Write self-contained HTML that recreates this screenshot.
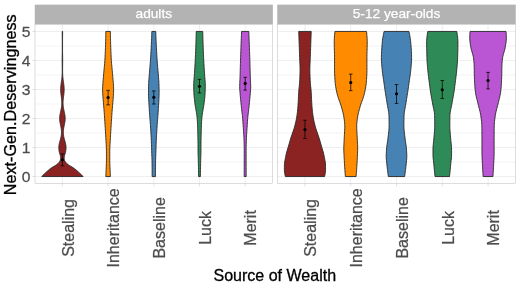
<!DOCTYPE html>
<html><head><meta charset="utf-8"><title>plot</title><style>html,body{margin:0;padding:0;background:#fff}svg{display:block}</style></head><body>
<svg width="520" height="289" viewBox="0 0 520 289" font-family="'Liberation Sans', sans-serif">
<rect width="520" height="289" fill="#fff"/>
<rect x="34.75" y="4.65" width="238.10" height="19.75" fill="#B3B3B3"/>
<rect x="35.0" y="24.4" width="237.60000000000002" height="159.1" fill="#fff"/>
<line x1="35.0" x2="272.6" y1="162.04" y2="162.04" stroke="#E2E2E2" stroke-width="0.4"/>
<line x1="35.0" x2="272.6" y1="133.02" y2="133.02" stroke="#E2E2E2" stroke-width="0.4"/>
<line x1="35.0" x2="272.6" y1="104.00" y2="104.00" stroke="#E2E2E2" stroke-width="0.4"/>
<line x1="35.0" x2="272.6" y1="74.98" y2="74.98" stroke="#E2E2E2" stroke-width="0.4"/>
<line x1="35.0" x2="272.6" y1="45.96" y2="45.96" stroke="#E2E2E2" stroke-width="0.4"/>
<line x1="35.0" x2="272.6" y1="176.55" y2="176.55" stroke="#E2E2E2" stroke-width="0.6"/>
<line x1="35.0" x2="272.6" y1="147.53" y2="147.53" stroke="#E2E2E2" stroke-width="0.6"/>
<line x1="35.0" x2="272.6" y1="118.51" y2="118.51" stroke="#E2E2E2" stroke-width="0.6"/>
<line x1="35.0" x2="272.6" y1="89.49" y2="89.49" stroke="#E2E2E2" stroke-width="0.6"/>
<line x1="35.0" x2="272.6" y1="60.47" y2="60.47" stroke="#E2E2E2" stroke-width="0.6"/>
<line x1="35.0" x2="272.6" y1="31.45" y2="31.45" stroke="#E2E2E2" stroke-width="0.6"/>
<line x1="62.42" x2="62.42" y1="24.4" y2="183.5" stroke="#E2E2E2" stroke-width="0.6"/>
<line x1="108.11" x2="108.11" y1="24.4" y2="183.5" stroke="#E2E2E2" stroke-width="0.6"/>
<line x1="153.80" x2="153.80" y1="24.4" y2="183.5" stroke="#E2E2E2" stroke-width="0.6"/>
<line x1="199.49" x2="199.49" y1="24.4" y2="183.5" stroke="#E2E2E2" stroke-width="0.6"/>
<line x1="245.18" x2="245.18" y1="24.4" y2="183.5" stroke="#E2E2E2" stroke-width="0.6"/>
<path d="M41.72 176.55 L42.41 175.82 L43.13 175.10 L43.86 174.37 L44.62 173.65 L45.38 172.92 L46.17 172.20 L46.98 171.47 L47.82 170.75 L48.68 170.02 L49.58 169.30 L50.52 168.57 L51.52 167.84 L52.64 167.12 L53.88 166.39 L55.11 165.67 L56.22 164.94 L57.18 164.22 L58.02 163.49 L58.73 162.77 L59.32 162.04 L59.81 161.31 L60.21 160.59 L60.44 159.86 L60.61 159.14 L60.66 158.41 L60.63 157.69 L60.56 156.96 L60.47 156.24 L60.31 155.51 L60.08 154.78 L59.83 154.06 L59.62 153.33 L59.44 152.61 L59.26 151.88 L59.12 151.16 L59.02 150.43 L58.94 149.71 L58.88 148.98 L58.83 148.26 L58.81 147.53 L58.83 146.80 L58.88 146.08 L58.97 145.35 L59.08 144.63 L59.22 143.90 L59.38 143.18 L59.56 142.45 L59.76 141.73 L59.96 141.00 L60.16 140.28 L60.37 139.55 L60.56 138.82 L60.75 138.10 L60.92 137.37 L61.07 136.65 L61.20 135.92 L61.32 135.20 L61.40 134.47 L61.46 133.75 L61.50 133.02 L61.51 132.29 L61.50 131.57 L61.46 130.84 L61.40 130.12 L61.32 129.39 L61.21 128.67 L61.10 127.94 L60.97 127.22 L60.82 126.49 L60.68 125.77 L60.52 125.04 L60.37 124.31 L60.23 123.59 L60.09 122.86 L59.97 122.14 L59.86 121.41 L59.78 120.69 L59.71 119.96 L59.68 119.24 L59.66 118.51 L59.68 117.78 L59.72 117.06 L59.78 116.33 L59.87 115.61 L59.97 114.88 L60.10 114.16 L60.24 113.43 L60.39 112.71 L60.54 111.98 L60.70 111.26 L60.86 110.53 L61.01 109.80 L61.15 109.08 L61.28 108.35 L61.41 107.63 L61.51 106.90 L61.60 106.18 L61.68 105.45 L61.73 104.73 L61.77 104.00 L61.79 103.27 L61.79 102.55 L61.77 101.82 L61.74 101.10 L61.69 100.37 L61.63 99.65 L61.56 98.92 L61.48 98.20 L61.39 97.47 L61.30 96.74 L61.21 96.02 L61.11 95.29 L61.02 94.57 L60.94 93.84 L60.86 93.12 L60.79 92.39 L60.74 91.67 L60.70 90.94 L60.67 90.22 L60.66 89.49 L60.67 88.76 L60.70 88.04 L60.74 87.31 L60.80 86.59 L60.86 85.86 L60.94 85.14 L61.03 84.41 L61.13 83.69 L61.23 82.96 L61.33 82.23 L61.44 81.51 L61.54 80.78 L61.64 80.06 L61.73 79.33 L61.81 78.61 L61.89 77.88 L61.96 77.16 L62.03 76.43 L62.08 75.71 L62.13 74.98 L62.17 74.25 L62.20 73.53 L62.22 72.80 L62.24 72.08 L62.25 71.35 L62.25 70.63 L62.25 69.90 L62.25 69.18 L62.25 68.45 L62.24 67.72 L62.23 67.00 L62.22 66.27 L62.21 65.55 L62.20 64.82 L62.19 64.10 L62.18 63.37 L62.17 62.65 L62.17 61.92 L62.17 61.20 L62.16 60.47 L62.17 59.74 L62.17 59.02 L62.18 58.29 L62.18 57.57 L62.19 56.84 L62.20 56.12 L62.22 55.39 L62.23 54.67 L62.24 53.94 L62.26 53.22 L62.27 52.49 L62.29 51.76 L62.30 51.04 L62.30 50.31 L62.30 49.59 L62.30 48.86 L62.30 48.14 L62.30 47.41 L62.30 46.69 L62.30 45.96 L62.30 45.23 L62.30 44.51 L62.30 43.78 L62.30 43.06 L62.30 42.33 L62.30 41.61 L62.30 40.88 L62.30 40.16 L62.30 39.43 L62.29 38.70 L62.28 37.98 L62.27 37.25 L62.26 36.53 L62.25 35.80 L62.24 35.08 L62.23 34.35 L62.22 33.63 L62.22 32.90 L62.22 32.18 L62.22 31.45 L62.62 31.45 L62.61 32.18 L62.61 32.90 L62.61 33.63 L62.60 34.35 L62.59 35.08 L62.58 35.80 L62.57 36.53 L62.56 37.25 L62.55 37.98 L62.54 38.70 L62.54 39.43 L62.54 40.16 L62.54 40.88 L62.54 41.61 L62.54 42.33 L62.54 43.06 L62.54 43.78 L62.54 44.51 L62.54 45.23 L62.54 45.96 L62.54 46.69 L62.54 47.41 L62.54 48.14 L62.54 48.86 L62.54 49.59 L62.54 50.31 L62.54 51.04 L62.54 51.76 L62.56 52.49 L62.57 53.22 L62.59 53.94 L62.60 54.67 L62.61 55.39 L62.63 56.12 L62.64 56.84 L62.65 57.57 L62.66 58.29 L62.66 59.02 L62.66 59.74 L62.67 60.47 L62.67 61.20 L62.66 61.92 L62.66 62.65 L62.65 63.37 L62.64 64.10 L62.63 64.82 L62.62 65.55 L62.61 66.27 L62.60 67.00 L62.59 67.72 L62.58 68.45 L62.58 69.18 L62.58 69.90 L62.58 70.63 L62.58 71.35 L62.60 72.08 L62.61 72.80 L62.64 73.53 L62.67 74.25 L62.70 74.98 L62.75 75.71 L62.80 76.43 L62.87 77.16 L62.94 77.88 L63.02 78.61 L63.10 79.33 L63.19 80.06 L63.29 80.78 L63.39 81.51 L63.50 82.23 L63.60 82.96 L63.70 83.69 L63.80 84.41 L63.89 85.14 L63.97 85.86 L64.04 86.59 L64.09 87.31 L64.13 88.04 L64.16 88.76 L64.17 89.49 L64.16 90.22 L64.13 90.94 L64.09 91.67 L64.04 92.39 L63.97 93.12 L63.90 93.84 L63.81 94.57 L63.72 95.29 L63.62 96.02 L63.53 96.74 L63.44 97.47 L63.35 98.20 L63.27 98.92 L63.20 99.65 L63.14 100.37 L63.09 101.10 L63.06 101.82 L63.04 102.55 L63.04 103.27 L63.06 104.00 L63.10 104.73 L63.16 105.45 L63.23 106.18 L63.32 106.90 L63.42 107.63 L63.55 108.35 L63.68 109.08 L63.82 109.80 L63.98 110.53 L64.13 111.26 L64.29 111.98 L64.44 112.71 L64.59 113.43 L64.73 114.16 L64.86 114.88 L64.96 115.61 L65.05 116.33 L65.11 117.06 L65.15 117.78 L65.17 118.51 L65.15 119.24 L65.12 119.96 L65.05 120.69 L64.97 121.41 L64.86 122.14 L64.74 122.86 L64.60 123.59 L64.46 124.31 L64.31 125.04 L64.16 125.77 L64.01 126.49 L63.87 127.22 L63.73 127.94 L63.62 128.67 L63.51 129.39 L63.43 130.12 L63.37 130.84 L63.33 131.57 L63.32 132.29 L63.33 133.02 L63.37 133.75 L63.43 134.47 L63.52 135.20 L63.63 135.92 L63.76 136.65 L63.91 137.37 L64.08 138.10 L64.27 138.82 L64.47 139.55 L64.67 140.28 L64.87 141.00 L65.08 141.73 L65.27 142.45 L65.45 143.18 L65.61 143.90 L65.75 144.63 L65.87 145.35 L65.95 146.08 L66.00 146.80 L66.02 147.53 L66.00 148.26 L65.95 148.98 L65.89 149.71 L65.82 150.43 L65.71 151.16 L65.57 151.88 L65.39 152.61 L65.22 153.33 L65.00 154.06 L64.75 154.78 L64.52 155.51 L64.37 156.24 L64.27 156.96 L64.20 157.69 L64.17 158.41 L64.22 159.14 L64.39 159.86 L64.62 160.59 L65.02 161.31 L65.52 162.04 L66.10 162.77 L66.82 163.49 L67.65 164.22 L68.62 164.94 L69.72 165.67 L70.95 166.39 L72.19 167.12 L73.32 167.84 L74.31 168.57 L75.25 169.30 L76.15 170.02 L77.02 170.75 L77.86 171.47 L78.66 172.20 L79.45 172.92 L80.22 173.65 L80.97 174.37 L81.70 175.10 L82.42 175.82 L83.12 176.55 Z" fill="#8B2323" stroke="#262626" stroke-width="0.9" stroke-linejoin="round"/>
<path d="M62.42 165.81 V153.91 M60.62 165.81 H64.22 M60.62 153.91 H64.22" stroke="#000" stroke-width="0.75" fill="none"/>
<circle cx="62.42" cy="159.86" r="1.6" fill="#000"/>
<path d="M105.81 176.55 L105.88 175.10 L105.96 173.65 L106.02 172.20 L106.09 170.75 L106.15 169.30 L106.21 167.84 L106.27 166.39 L106.33 164.94 L106.39 163.49 L106.43 162.04 L106.46 160.59 L106.46 159.14 L106.46 157.69 L106.46 156.24 L106.46 154.78 L106.46 153.33 L106.46 151.88 L106.44 150.43 L106.40 148.98 L106.35 147.53 L106.28 146.08 L106.20 144.63 L106.11 143.18 L106.03 141.73 L105.94 140.28 L105.85 138.82 L105.78 137.37 L105.70 135.92 L105.62 134.47 L105.53 133.02 L105.45 131.57 L105.36 130.12 L105.27 128.67 L105.18 127.22 L105.09 125.77 L105.00 124.31 L104.91 122.86 L104.81 121.41 L104.72 119.96 L104.63 118.51 L104.53 117.06 L104.43 115.61 L104.33 114.16 L104.23 112.71 L104.12 111.26 L104.01 109.80 L103.89 108.35 L103.76 106.90 L103.63 105.45 L103.51 104.00 L103.40 102.55 L103.28 101.10 L103.16 99.65 L103.04 98.20 L102.92 96.74 L102.82 95.29 L102.73 93.84 L102.67 92.39 L102.62 90.94 L102.61 89.49 L102.63 88.04 L102.68 86.59 L102.75 85.14 L102.85 83.69 L102.97 82.23 L103.09 80.78 L103.22 79.33 L103.35 77.88 L103.46 76.43 L103.57 74.98 L103.70 73.53 L103.83 72.08 L103.96 70.63 L104.11 69.18 L104.25 67.72 L104.39 66.27 L104.53 64.82 L104.65 63.37 L104.77 61.92 L104.88 60.47 L104.96 59.02 L105.03 57.57 L105.10 56.12 L105.17 54.67 L105.23 53.22 L105.29 51.76 L105.35 50.31 L105.41 48.86 L105.47 47.41 L105.52 45.96 L105.57 44.51 L105.62 43.06 L105.66 41.61 L105.70 40.16 L105.73 38.70 L105.76 37.25 L105.78 35.80 L105.79 34.35 L105.80 32.90 L105.81 31.45 L110.41 31.45 L110.41 32.90 L110.42 34.35 L110.44 35.80 L110.46 37.25 L110.49 38.70 L110.52 40.16 L110.56 41.61 L110.60 43.06 L110.65 44.51 L110.70 45.96 L110.75 47.41 L110.80 48.86 L110.86 50.31 L110.92 51.76 L110.99 53.22 L111.05 54.67 L111.12 56.12 L111.18 57.57 L111.25 59.02 L111.34 60.47 L111.44 61.92 L111.56 63.37 L111.69 64.82 L111.83 66.27 L111.97 67.72 L112.11 69.18 L112.25 70.63 L112.39 72.08 L112.52 73.53 L112.64 74.98 L112.75 76.43 L112.87 77.88 L113.00 79.33 L113.12 80.78 L113.25 82.23 L113.36 83.69 L113.46 85.14 L113.54 86.59 L113.59 88.04 L113.61 89.49 L113.59 90.94 L113.55 92.39 L113.48 93.84 L113.39 95.29 L113.29 96.74 L113.18 98.20 L113.06 99.65 L112.94 101.10 L112.82 102.55 L112.71 104.00 L112.59 105.45 L112.46 106.90 L112.33 108.35 L112.21 109.80 L112.10 111.26 L111.99 112.71 L111.89 114.16 L111.79 115.61 L111.69 117.06 L111.59 118.51 L111.49 119.96 L111.40 121.41 L111.31 122.86 L111.22 124.31 L111.13 125.77 L111.03 127.22 L110.94 128.67 L110.86 130.12 L110.77 131.57 L110.68 133.02 L110.60 134.47 L110.52 135.92 L110.44 137.37 L110.36 138.82 L110.28 140.28 L110.19 141.73 L110.10 143.18 L110.02 144.63 L109.94 146.08 L109.87 147.53 L109.81 148.98 L109.77 150.43 L109.76 151.88 L109.76 153.33 L109.76 154.78 L109.76 156.24 L109.76 157.69 L109.76 159.14 L109.76 160.59 L109.78 162.04 L109.83 163.49 L109.89 164.94 L109.95 166.39 L110.01 167.84 L110.06 169.30 L110.13 170.75 L110.19 172.20 L110.26 173.65 L110.33 175.10 L110.41 176.55 Z" fill="#FF8C00" stroke="#262626" stroke-width="0.9" stroke-linejoin="round"/>
<path d="M108.11 104.87 V90.36 M106.31 104.87 H109.91 M106.31 90.36 H109.91" stroke="#000" stroke-width="0.75" fill="none"/>
<circle cx="108.11" cy="97.62" r="1.6" fill="#000"/>
<path d="M152.15 176.55 L152.15 175.10 L152.14 173.65 L152.14 172.20 L152.13 170.75 L152.12 169.30 L152.10 167.84 L152.09 166.39 L152.07 164.94 L152.05 163.49 L152.03 162.04 L152.01 160.59 L151.98 159.14 L151.93 157.69 L151.87 156.24 L151.81 154.78 L151.74 153.33 L151.69 151.88 L151.65 150.43 L151.61 148.98 L151.57 147.53 L151.53 146.08 L151.48 144.63 L151.43 143.18 L151.37 141.73 L151.31 140.28 L151.24 138.82 L151.16 137.37 L151.09 135.92 L151.01 134.47 L150.92 133.02 L150.84 131.57 L150.75 130.12 L150.66 128.67 L150.57 127.22 L150.48 125.77 L150.38 124.31 L150.28 122.86 L150.17 121.41 L150.05 119.96 L149.93 118.51 L149.82 117.06 L149.70 115.61 L149.59 114.16 L149.48 112.71 L149.39 111.26 L149.30 109.80 L149.22 108.35 L149.13 106.90 L149.04 105.45 L148.95 104.00 L148.86 102.55 L148.78 101.10 L148.71 99.65 L148.64 98.20 L148.59 96.74 L148.54 95.29 L148.51 93.84 L148.50 92.39 L148.50 90.94 L148.52 89.49 L148.54 88.04 L148.57 86.59 L148.61 85.14 L148.65 83.69 L148.71 82.23 L148.80 80.78 L148.92 79.33 L149.04 77.88 L149.16 76.43 L149.27 74.98 L149.38 73.53 L149.50 72.08 L149.62 70.63 L149.74 69.18 L149.87 67.72 L149.99 66.27 L150.11 64.82 L150.23 63.37 L150.34 61.92 L150.45 60.47 L150.55 59.02 L150.63 57.57 L150.72 56.12 L150.81 54.67 L150.89 53.22 L150.97 51.76 L151.05 50.31 L151.13 48.86 L151.20 47.41 L151.28 45.96 L151.35 44.51 L151.42 43.06 L151.48 41.61 L151.54 40.16 L151.60 38.70 L151.66 37.25 L151.71 35.80 L151.76 34.35 L151.81 32.90 L151.85 31.45 L155.75 31.45 L155.79 32.90 L155.84 34.35 L155.89 35.80 L155.94 37.25 L156.00 38.70 L156.06 40.16 L156.12 41.61 L156.18 43.06 L156.25 44.51 L156.32 45.96 L156.40 47.41 L156.47 48.86 L156.55 50.31 L156.63 51.76 L156.71 53.22 L156.79 54.67 L156.88 56.12 L156.97 57.57 L157.05 59.02 L157.15 60.47 L157.26 61.92 L157.37 63.37 L157.49 64.82 L157.61 66.27 L157.73 67.72 L157.86 69.18 L157.98 70.63 L158.10 72.08 L158.22 73.53 L158.33 74.98 L158.44 76.43 L158.56 77.88 L158.68 79.33 L158.80 80.78 L158.89 82.23 L158.95 83.69 L158.99 85.14 L159.03 86.59 L159.06 88.04 L159.08 89.49 L159.10 90.94 L159.10 92.39 L159.09 93.84 L159.06 95.29 L159.01 96.74 L158.96 98.20 L158.89 99.65 L158.82 101.10 L158.74 102.55 L158.65 104.00 L158.56 105.45 L158.47 106.90 L158.38 108.35 L158.30 109.80 L158.21 111.26 L158.12 112.71 L158.01 114.16 L157.90 115.61 L157.78 117.06 L157.67 118.51 L157.55 119.96 L157.43 121.41 L157.32 122.86 L157.22 124.31 L157.12 125.77 L157.03 127.22 L156.94 128.67 L156.85 130.12 L156.76 131.57 L156.68 133.02 L156.59 134.47 L156.51 135.92 L156.44 137.37 L156.36 138.82 L156.29 140.28 L156.23 141.73 L156.17 143.18 L156.12 144.63 L156.07 146.08 L156.03 147.53 L155.99 148.98 L155.95 150.43 L155.91 151.88 L155.86 153.33 L155.79 154.78 L155.73 156.24 L155.67 157.69 L155.62 159.14 L155.59 160.59 L155.57 162.04 L155.55 163.49 L155.53 164.94 L155.51 166.39 L155.50 167.84 L155.48 169.30 L155.47 170.75 L155.46 172.20 L155.46 173.65 L155.45 175.10 L155.45 176.55 Z" fill="#4682B4" stroke="#262626" stroke-width="0.9" stroke-linejoin="round"/>
<path d="M153.80 104.00 V90.94 M152.00 104.00 H155.60 M152.00 90.94 H155.60" stroke="#000" stroke-width="0.75" fill="none"/>
<circle cx="153.80" cy="97.33" r="1.6" fill="#000"/>
<path d="M198.59 176.55 L198.58 175.10 L198.56 173.65 L198.54 172.20 L198.52 170.75 L198.49 169.30 L198.47 167.84 L198.44 166.39 L198.41 164.94 L198.37 163.49 L198.34 162.04 L198.31 160.59 L198.27 159.14 L198.22 157.69 L198.16 156.24 L198.10 154.78 L198.06 153.33 L198.04 151.88 L198.03 150.43 L198.02 148.98 L198.01 147.53 L198.01 146.08 L198.00 144.63 L197.99 143.18 L197.97 141.73 L197.95 140.28 L197.93 138.82 L197.90 137.37 L197.87 135.92 L197.84 134.47 L197.80 133.02 L197.76 131.57 L197.72 130.12 L197.68 128.67 L197.63 127.22 L197.58 125.77 L197.53 124.31 L197.46 122.86 L197.38 121.41 L197.29 119.96 L197.19 118.51 L197.06 117.06 L196.88 115.61 L196.67 114.16 L196.43 112.71 L196.18 111.26 L195.94 109.80 L195.70 108.35 L195.45 106.90 L195.20 105.45 L194.99 104.00 L194.81 102.55 L194.63 101.10 L194.46 99.65 L194.30 98.20 L194.15 96.74 L194.02 95.29 L193.92 93.84 L193.85 92.39 L193.80 90.94 L193.76 89.49 L193.73 88.04 L193.70 86.59 L193.69 85.14 L193.72 83.69 L193.79 82.23 L193.90 80.78 L194.02 79.33 L194.14 77.88 L194.25 76.43 L194.35 74.98 L194.44 73.53 L194.53 72.08 L194.63 70.63 L194.72 69.18 L194.81 67.72 L194.90 66.27 L194.99 64.82 L195.08 63.37 L195.16 61.92 L195.23 60.47 L195.30 59.02 L195.37 57.57 L195.43 56.12 L195.49 54.67 L195.55 53.22 L195.61 51.76 L195.67 50.31 L195.73 48.86 L195.78 47.41 L195.84 45.96 L195.89 44.51 L195.94 43.06 L195.98 41.61 L196.03 40.16 L196.07 38.70 L196.11 37.25 L196.15 35.80 L196.18 34.35 L196.21 32.90 L196.24 31.45 L202.74 31.45 L202.77 32.90 L202.80 34.35 L202.84 35.80 L202.87 37.25 L202.91 38.70 L202.96 40.16 L203.00 41.61 L203.05 43.06 L203.10 44.51 L203.15 45.96 L203.20 47.41 L203.26 48.86 L203.31 50.31 L203.37 51.76 L203.43 53.22 L203.49 54.67 L203.55 56.12 L203.62 57.57 L203.68 59.02 L203.75 60.47 L203.83 61.92 L203.91 63.37 L203.99 64.82 L204.08 66.27 L204.17 67.72 L204.26 69.18 L204.36 70.63 L204.45 72.08 L204.55 73.53 L204.64 74.98 L204.73 76.43 L204.84 77.88 L204.97 79.33 L205.09 80.78 L205.19 82.23 L205.26 83.69 L205.29 85.14 L205.28 86.59 L205.26 88.04 L205.22 89.49 L205.18 90.94 L205.13 92.39 L205.06 93.84 L204.96 95.29 L204.83 96.74 L204.69 98.20 L204.53 99.65 L204.35 101.10 L204.17 102.55 L203.99 104.00 L203.78 105.45 L203.54 106.90 L203.28 108.35 L203.04 109.80 L202.81 111.26 L202.56 112.71 L202.32 114.16 L202.10 115.61 L201.92 117.06 L201.80 118.51 L201.69 119.96 L201.60 121.41 L201.52 122.86 L201.46 124.31 L201.40 125.77 L201.35 127.22 L201.31 128.67 L201.26 130.12 L201.22 131.57 L201.18 133.02 L201.15 134.47 L201.11 135.92 L201.08 137.37 L201.06 138.82 L201.03 140.28 L201.01 141.73 L201.00 143.18 L200.99 144.63 L200.98 146.08 L200.97 147.53 L200.96 148.98 L200.96 150.43 L200.95 151.88 L200.92 153.33 L200.88 154.78 L200.83 156.24 L200.77 157.69 L200.72 159.14 L200.68 160.59 L200.64 162.04 L200.61 163.49 L200.58 164.94 L200.55 166.39 L200.52 167.84 L200.49 169.30 L200.47 170.75 L200.44 172.20 L200.42 173.65 L200.41 175.10 L200.39 176.55 Z" fill="#2E8B57" stroke="#262626" stroke-width="0.9" stroke-linejoin="round"/>
<path d="M199.49 92.97 V79.33 M197.69 92.97 H201.29 M197.69 79.33 H201.29" stroke="#000" stroke-width="0.75" fill="none"/>
<circle cx="199.49" cy="86.30" r="1.6" fill="#000"/>
<path d="M244.18 176.55 L244.19 175.10 L244.20 173.65 L244.20 172.20 L244.21 170.75 L244.22 169.30 L244.22 167.84 L244.23 166.39 L244.23 164.94 L244.23 163.49 L244.23 162.04 L244.23 160.59 L244.23 159.14 L244.23 157.69 L244.23 156.24 L244.23 154.78 L244.23 153.33 L244.23 151.88 L244.23 150.43 L244.23 148.98 L244.22 147.53 L244.20 146.08 L244.16 144.63 L244.12 143.18 L244.07 141.73 L244.02 140.28 L243.97 138.82 L243.91 137.37 L243.84 135.92 L243.76 134.47 L243.67 133.02 L243.57 131.57 L243.47 130.12 L243.36 128.67 L243.26 127.22 L243.17 125.77 L243.07 124.31 L242.98 122.86 L242.89 121.41 L242.79 119.96 L242.68 118.51 L242.55 117.06 L242.40 115.61 L242.22 114.16 L242.04 112.71 L241.85 111.26 L241.68 109.80 L241.53 108.35 L241.38 106.90 L241.23 105.45 L241.08 104.00 L240.94 102.55 L240.80 101.10 L240.65 99.65 L240.51 98.20 L240.38 96.74 L240.24 95.29 L240.12 93.84 L240.01 92.39 L239.89 90.94 L239.77 89.49 L239.69 88.04 L239.69 86.59 L239.71 85.14 L239.76 83.69 L239.81 82.23 L239.88 80.78 L239.94 79.33 L240.01 77.88 L240.07 76.43 L240.11 74.98 L240.15 73.53 L240.20 72.08 L240.24 70.63 L240.28 69.18 L240.31 67.72 L240.35 66.27 L240.39 64.82 L240.43 63.37 L240.47 61.92 L240.51 60.47 L240.56 59.02 L240.60 57.57 L240.65 56.12 L240.70 54.67 L240.75 53.22 L240.80 51.76 L240.85 50.31 L240.90 48.86 L240.95 47.41 L241.00 45.96 L241.06 44.51 L241.11 43.06 L241.17 41.61 L241.23 40.16 L241.28 38.70 L241.34 37.25 L241.40 35.80 L241.46 34.35 L241.52 32.90 L241.58 31.45 L248.78 31.45 L248.85 32.90 L248.91 34.35 L248.97 35.80 L249.03 37.25 L249.09 38.70 L249.14 40.16 L249.20 41.61 L249.26 43.06 L249.31 44.51 L249.36 45.96 L249.42 47.41 L249.47 48.86 L249.52 50.31 L249.57 51.76 L249.62 53.22 L249.67 54.67 L249.72 56.12 L249.77 57.57 L249.81 59.02 L249.86 60.47 L249.90 61.92 L249.94 63.37 L249.98 64.82 L250.02 66.27 L250.06 67.72 L250.09 69.18 L250.13 70.63 L250.17 72.08 L250.21 73.53 L250.26 74.98 L250.30 76.43 L250.36 77.88 L250.42 79.33 L250.49 80.78 L250.55 82.23 L250.61 83.69 L250.65 85.14 L250.68 86.59 L250.68 88.04 L250.60 89.49 L250.48 90.94 L250.36 92.39 L250.25 93.84 L250.12 95.29 L249.99 96.74 L249.86 98.20 L249.72 99.65 L249.57 101.10 L249.43 102.55 L249.28 104.00 L249.14 105.45 L248.99 106.90 L248.84 108.35 L248.68 109.80 L248.52 111.26 L248.33 112.71 L248.15 114.16 L247.97 115.61 L247.82 117.06 L247.69 118.51 L247.58 119.96 L247.48 121.41 L247.38 122.86 L247.29 124.31 L247.20 125.77 L247.11 127.22 L247.00 128.67 L246.90 130.12 L246.80 131.57 L246.70 133.02 L246.61 134.47 L246.53 135.92 L246.46 137.37 L246.40 138.82 L246.35 140.28 L246.30 141.73 L246.25 143.18 L246.21 144.63 L246.17 146.08 L246.15 147.53 L246.14 148.98 L246.13 150.43 L246.13 151.88 L246.13 153.33 L246.13 154.78 L246.13 156.24 L246.13 157.69 L246.13 159.14 L246.13 160.59 L246.14 162.04 L246.14 163.49 L246.14 164.94 L246.14 166.39 L246.15 167.84 L246.15 169.30 L246.16 170.75 L246.16 172.20 L246.17 173.65 L246.18 175.10 L246.18 176.55 Z" fill="#BA55D3" stroke="#262626" stroke-width="0.9" stroke-linejoin="round"/>
<path d="M245.18 90.07 V77.30 M243.38 90.07 H246.98 M243.38 77.30 H246.98" stroke="#000" stroke-width="0.75" fill="none"/>
<circle cx="245.18" cy="83.40" r="1.6" fill="#000"/>
<rect x="35.0" y="24.4" width="237.60000000000002" height="159.1" fill="none" stroke="#B3B3B3" stroke-width="0.45"/>
<line x1="62.42" x2="62.42" y1="183.5" y2="186.2" stroke="#B3B3B3" stroke-width="0.4"/>
<line x1="108.11" x2="108.11" y1="183.5" y2="186.2" stroke="#B3B3B3" stroke-width="0.4"/>
<line x1="153.80" x2="153.80" y1="183.5" y2="186.2" stroke="#B3B3B3" stroke-width="0.4"/>
<line x1="199.49" x2="199.49" y1="183.5" y2="186.2" stroke="#B3B3B3" stroke-width="0.4"/>
<line x1="245.18" x2="245.18" y1="183.5" y2="186.2" stroke="#B3B3B3" stroke-width="0.4"/>
<rect x="277.25" y="4.65" width="238.50" height="19.75" fill="#B3B3B3"/>
<rect x="277.5" y="24.4" width="238.0" height="159.1" fill="#fff"/>
<line x1="277.5" x2="515.5" y1="162.04" y2="162.04" stroke="#E2E2E2" stroke-width="0.4"/>
<line x1="277.5" x2="515.5" y1="133.02" y2="133.02" stroke="#E2E2E2" stroke-width="0.4"/>
<line x1="277.5" x2="515.5" y1="104.00" y2="104.00" stroke="#E2E2E2" stroke-width="0.4"/>
<line x1="277.5" x2="515.5" y1="74.98" y2="74.98" stroke="#E2E2E2" stroke-width="0.4"/>
<line x1="277.5" x2="515.5" y1="45.96" y2="45.96" stroke="#E2E2E2" stroke-width="0.4"/>
<line x1="277.5" x2="515.5" y1="176.55" y2="176.55" stroke="#E2E2E2" stroke-width="0.6"/>
<line x1="277.5" x2="515.5" y1="147.53" y2="147.53" stroke="#E2E2E2" stroke-width="0.6"/>
<line x1="277.5" x2="515.5" y1="118.51" y2="118.51" stroke="#E2E2E2" stroke-width="0.6"/>
<line x1="277.5" x2="515.5" y1="89.49" y2="89.49" stroke="#E2E2E2" stroke-width="0.6"/>
<line x1="277.5" x2="515.5" y1="60.47" y2="60.47" stroke="#E2E2E2" stroke-width="0.6"/>
<line x1="277.5" x2="515.5" y1="31.45" y2="31.45" stroke="#E2E2E2" stroke-width="0.6"/>
<line x1="304.96" x2="304.96" y1="24.4" y2="183.5" stroke="#E2E2E2" stroke-width="0.6"/>
<line x1="350.73" x2="350.73" y1="24.4" y2="183.5" stroke="#E2E2E2" stroke-width="0.6"/>
<line x1="396.50" x2="396.50" y1="24.4" y2="183.5" stroke="#E2E2E2" stroke-width="0.6"/>
<line x1="442.27" x2="442.27" y1="24.4" y2="183.5" stroke="#E2E2E2" stroke-width="0.6"/>
<line x1="488.04" x2="488.04" y1="24.4" y2="183.5" stroke="#E2E2E2" stroke-width="0.6"/>
<path d="M285.36 176.55 L285.04 175.10 L284.76 173.65 L284.54 172.20 L284.40 170.75 L284.36 169.30 L284.37 167.84 L284.39 166.39 L284.43 164.94 L284.48 163.49 L284.67 162.04 L284.95 160.59 L285.22 159.14 L285.48 157.69 L285.76 156.24 L286.05 154.78 L286.38 153.33 L286.74 151.88 L287.19 150.43 L287.64 148.98 L288.06 147.53 L288.48 146.08 L288.90 144.63 L289.32 143.18 L289.73 141.73 L290.16 140.28 L290.59 138.82 L291.04 137.37 L291.52 135.92 L292.02 134.47 L292.53 133.02 L293.04 131.57 L293.54 130.12 L294.01 128.67 L294.45 127.22 L294.84 125.77 L295.20 124.31 L295.55 122.86 L295.89 121.41 L296.20 119.96 L296.49 118.51 L296.74 117.06 L296.96 115.61 L297.15 114.16 L297.33 112.71 L297.49 111.26 L297.64 109.80 L297.77 108.35 L297.90 106.90 L298.01 105.45 L298.11 104.00 L298.20 102.55 L298.28 101.10 L298.34 99.65 L298.41 98.20 L298.47 96.74 L298.54 95.29 L298.61 93.84 L298.69 92.39 L298.80 90.94 L298.93 89.49 L299.08 88.04 L299.24 86.59 L299.39 85.14 L299.52 83.69 L299.63 82.23 L299.70 80.78 L299.78 79.33 L299.84 77.88 L299.91 76.43 L299.96 74.98 L300.01 73.53 L300.04 72.08 L300.06 70.63 L300.06 69.18 L300.04 67.72 L300.00 66.27 L299.95 64.82 L299.89 63.37 L299.82 61.92 L299.76 60.47 L299.69 59.02 L299.64 57.57 L299.59 56.12 L299.54 54.67 L299.49 53.22 L299.44 51.76 L299.39 50.31 L299.34 48.86 L299.28 47.41 L299.23 45.96 L299.18 44.51 L299.13 43.06 L299.08 41.61 L299.03 40.16 L298.97 38.70 L298.92 37.25 L298.87 35.80 L298.82 34.35 L298.76 32.90 L298.71 31.45 L311.21 31.45 L311.16 32.90 L311.11 34.35 L311.05 35.80 L311.00 37.25 L310.95 38.70 L310.90 40.16 L310.85 41.61 L310.79 43.06 L310.74 44.51 L310.69 45.96 L310.64 47.41 L310.59 48.86 L310.54 50.31 L310.49 51.76 L310.43 53.22 L310.38 54.67 L310.33 56.12 L310.28 57.57 L310.23 59.02 L310.17 60.47 L310.10 61.92 L310.04 63.37 L309.97 64.82 L309.92 66.27 L309.88 67.72 L309.86 69.18 L309.86 70.63 L309.88 72.08 L309.92 73.53 L309.96 74.98 L310.02 76.43 L310.08 77.88 L310.15 79.33 L310.22 80.78 L310.29 82.23 L310.40 83.69 L310.53 85.14 L310.68 86.59 L310.84 88.04 L310.99 89.49 L311.12 90.94 L311.23 92.39 L311.31 93.84 L311.39 95.29 L311.45 96.74 L311.52 98.20 L311.58 99.65 L311.65 101.10 L311.72 102.55 L311.81 104.00 L311.91 105.45 L312.03 106.90 L312.15 108.35 L312.29 109.80 L312.44 111.26 L312.60 112.71 L312.77 114.16 L312.96 115.61 L313.18 117.06 L313.43 118.51 L313.72 119.96 L314.03 121.41 L314.37 122.86 L314.72 124.31 L315.09 125.77 L315.48 127.22 L315.91 128.67 L316.38 130.12 L316.88 131.57 L317.39 133.02 L317.90 134.47 L318.40 135.92 L318.88 137.37 L319.33 138.82 L319.76 140.28 L320.19 141.73 L320.61 143.18 L321.02 144.63 L321.44 146.08 L321.86 147.53 L322.29 148.98 L322.74 150.43 L323.18 151.88 L323.54 153.33 L323.87 154.78 L324.17 156.24 L324.44 157.69 L324.71 159.14 L324.97 160.59 L325.26 162.04 L325.45 163.49 L325.50 164.94 L325.53 166.39 L325.55 167.84 L325.56 169.30 L325.52 170.75 L325.39 172.20 L325.17 173.65 L324.88 175.10 L324.56 176.55 Z" fill="#8B2323" stroke="#262626" stroke-width="0.9" stroke-linejoin="round"/>
<path d="M304.96 138.53 V120.25 M303.16 138.53 H306.76 M303.16 120.25 H306.76" stroke="#000" stroke-width="0.75" fill="none"/>
<circle cx="304.96" cy="129.54" r="1.6" fill="#000"/>
<path d="M345.38 176.55 L345.27 175.10 L345.15 173.65 L345.04 172.20 L344.94 170.75 L344.84 169.30 L344.74 167.84 L344.64 166.39 L344.55 164.94 L344.46 163.49 L344.38 162.04 L344.30 160.59 L344.22 159.14 L344.14 157.69 L344.07 156.24 L344.00 154.78 L343.93 153.33 L343.87 151.88 L343.80 150.43 L343.78 148.98 L343.80 147.53 L343.85 146.08 L343.90 144.63 L343.97 143.18 L344.05 141.73 L344.12 140.28 L344.19 138.82 L344.26 137.37 L344.33 135.92 L344.42 134.47 L344.51 133.02 L344.59 131.57 L344.67 130.12 L344.73 128.67 L344.77 127.22 L344.78 125.77 L344.73 124.31 L344.63 122.86 L344.48 121.41 L344.30 119.96 L344.08 118.51 L343.86 117.06 L343.63 115.61 L343.36 114.16 L343.01 112.71 L342.62 111.26 L342.23 109.80 L341.84 108.35 L341.42 106.90 L340.99 105.45 L340.53 104.00 L340.03 102.55 L339.48 101.10 L338.93 99.65 L338.42 98.20 L337.97 96.74 L337.54 95.29 L337.14 93.84 L336.79 92.39 L336.49 90.94 L336.21 89.49 L335.93 88.04 L335.68 86.59 L335.46 85.14 L335.27 83.69 L335.13 82.23 L335.02 80.78 L334.92 79.33 L334.82 77.88 L334.74 76.43 L334.66 74.98 L334.60 73.53 L334.56 72.08 L334.53 70.63 L334.53 69.18 L334.53 67.72 L334.53 66.27 L334.53 64.82 L334.53 63.37 L334.53 61.92 L334.53 60.47 L334.53 59.02 L334.53 57.57 L334.52 56.12 L334.50 54.67 L334.46 53.22 L334.43 51.76 L334.39 50.31 L334.35 48.86 L334.31 47.41 L334.28 45.96 L334.25 44.51 L334.24 43.06 L334.23 41.61 L334.26 40.16 L334.32 38.70 L334.41 37.25 L334.52 35.80 L334.65 34.35 L334.79 32.90 L334.93 31.45 L366.53 31.45 L366.68 32.90 L366.81 34.35 L366.94 35.80 L367.05 37.25 L367.14 38.70 L367.20 40.16 L367.23 41.61 L367.23 43.06 L367.21 44.51 L367.18 45.96 L367.15 47.41 L367.11 48.86 L367.07 50.31 L367.03 51.76 L367.00 53.22 L366.97 54.67 L366.94 56.12 L366.93 57.57 L366.93 59.02 L366.93 60.47 L366.93 61.92 L366.93 63.37 L366.93 64.82 L366.93 66.27 L366.93 67.72 L366.93 69.18 L366.93 70.63 L366.90 72.08 L366.86 73.53 L366.80 74.98 L366.72 76.43 L366.64 77.88 L366.54 79.33 L366.44 80.78 L366.33 82.23 L366.19 83.69 L366.00 85.14 L365.78 86.59 L365.53 88.04 L365.26 89.49 L364.97 90.94 L364.67 92.39 L364.32 93.84 L363.92 95.29 L363.49 96.74 L363.04 98.20 L362.53 99.65 L361.98 101.10 L361.44 102.55 L360.93 104.00 L360.47 105.45 L360.04 106.90 L359.62 108.35 L359.23 109.80 L358.84 111.26 L358.45 112.71 L358.11 114.16 L357.83 115.61 L357.60 117.06 L357.38 118.51 L357.17 119.96 L356.98 121.41 L356.83 122.86 L356.73 124.31 L356.68 125.77 L356.69 127.22 L356.73 128.67 L356.79 130.12 L356.87 131.57 L356.95 133.02 L357.04 134.47 L357.13 135.92 L357.20 137.37 L357.27 138.82 L357.34 140.28 L357.41 141.73 L357.49 143.18 L357.56 144.63 L357.61 146.08 L357.66 147.53 L357.68 148.98 L357.66 150.43 L357.59 151.88 L357.53 153.33 L357.46 154.78 L357.39 156.24 L357.32 157.69 L357.24 159.14 L357.16 160.59 L357.08 162.04 L357.00 163.49 L356.91 164.94 L356.82 166.39 L356.72 167.84 L356.63 169.30 L356.52 170.75 L356.42 172.20 L356.31 173.65 L356.20 175.10 L356.08 176.55 Z" fill="#FF8C00" stroke="#262626" stroke-width="0.9" stroke-linejoin="round"/>
<path d="M350.73 90.65 V74.11 M348.93 90.65 H352.53 M348.93 74.11 H352.53" stroke="#000" stroke-width="0.75" fill="none"/>
<circle cx="350.73" cy="82.53" r="1.6" fill="#000"/>
<path d="M388.40 176.55 L388.18 175.10 L387.97 173.65 L387.77 172.20 L387.58 170.75 L387.40 169.30 L387.23 167.84 L387.07 166.39 L386.91 164.94 L386.77 163.49 L386.62 162.04 L386.47 160.59 L386.33 159.14 L386.24 157.69 L386.20 156.24 L386.22 154.78 L386.28 153.33 L386.35 151.88 L386.44 150.43 L386.54 148.98 L386.68 147.53 L386.85 146.08 L387.06 144.63 L387.27 143.18 L387.50 141.73 L387.71 140.28 L387.90 138.82 L388.06 137.37 L388.24 135.92 L388.42 134.47 L388.59 133.02 L388.76 131.57 L388.90 130.12 L389.01 128.67 L389.08 127.22 L389.10 125.77 L389.10 124.31 L389.08 122.86 L389.07 121.41 L389.04 119.96 L389.02 118.51 L388.99 117.06 L388.95 115.61 L388.87 114.16 L388.72 112.71 L388.51 111.26 L388.26 109.80 L387.99 108.35 L387.71 106.90 L387.44 105.45 L387.20 104.00 L386.97 102.55 L386.74 101.10 L386.50 99.65 L386.27 98.20 L386.03 96.74 L385.80 95.29 L385.57 93.84 L385.34 92.39 L385.13 90.94 L384.91 89.49 L384.70 88.04 L384.49 86.59 L384.29 85.14 L384.08 83.69 L383.88 82.23 L383.68 80.78 L383.47 79.33 L383.25 77.88 L383.03 76.43 L382.83 74.98 L382.63 73.53 L382.45 72.08 L382.28 70.63 L382.15 69.18 L382.01 67.72 L381.87 66.27 L381.74 64.82 L381.62 63.37 L381.52 61.92 L381.45 60.47 L381.41 59.02 L381.40 57.57 L381.42 56.12 L381.46 54.67 L381.51 53.22 L381.57 51.76 L381.66 50.31 L381.75 48.86 L381.85 47.41 L381.96 45.96 L382.08 44.51 L382.20 43.06 L382.33 41.61 L382.49 40.16 L382.69 38.70 L382.93 37.25 L383.19 35.80 L383.48 34.35 L383.79 32.90 L384.10 31.45 L408.90 31.45 L409.21 32.90 L409.52 34.35 L409.81 35.80 L410.07 37.25 L410.31 38.70 L410.51 40.16 L410.67 41.61 L410.80 43.06 L410.92 44.51 L411.04 45.96 L411.15 47.41 L411.25 48.86 L411.34 50.31 L411.43 51.76 L411.49 53.22 L411.54 54.67 L411.58 56.12 L411.60 57.57 L411.59 59.02 L411.55 60.47 L411.48 61.92 L411.38 63.37 L411.26 64.82 L411.13 66.27 L410.99 67.72 L410.85 69.18 L410.72 70.63 L410.55 72.08 L410.37 73.53 L410.17 74.98 L409.97 76.43 L409.75 77.88 L409.53 79.33 L409.32 80.78 L409.12 82.23 L408.92 83.69 L408.71 85.14 L408.51 86.59 L408.30 88.04 L408.09 89.49 L407.87 90.94 L407.66 92.39 L407.43 93.84 L407.20 95.29 L406.97 96.74 L406.73 98.20 L406.50 99.65 L406.26 101.10 L406.03 102.55 L405.80 104.00 L405.56 105.45 L405.29 106.90 L405.01 108.35 L404.74 109.80 L404.49 111.26 L404.28 112.71 L404.13 114.16 L404.05 115.61 L404.01 117.06 L403.98 118.51 L403.96 119.96 L403.93 121.41 L403.92 122.86 L403.90 124.31 L403.90 125.77 L403.92 127.22 L403.99 128.67 L404.10 130.12 L404.24 131.57 L404.41 133.02 L404.58 134.47 L404.76 135.92 L404.94 137.37 L405.10 138.82 L405.29 140.28 L405.50 141.73 L405.73 143.18 L405.94 144.63 L406.15 146.08 L406.32 147.53 L406.46 148.98 L406.56 150.43 L406.65 151.88 L406.72 153.33 L406.78 154.78 L406.80 156.24 L406.76 157.69 L406.67 159.14 L406.53 160.59 L406.38 162.04 L406.23 163.49 L406.09 164.94 L405.93 166.39 L405.77 167.84 L405.60 169.30 L405.42 170.75 L405.23 172.20 L405.03 173.65 L404.82 175.10 L404.60 176.55 Z" fill="#4682B4" stroke="#262626" stroke-width="0.9" stroke-linejoin="round"/>
<path d="M396.50 103.42 V84.56 M394.70 103.42 H398.30 M394.70 84.56 H398.30" stroke="#000" stroke-width="0.75" fill="none"/>
<circle cx="396.50" cy="93.84" r="1.6" fill="#000"/>
<path d="M435.02 176.55 L434.87 175.10 L434.72 173.65 L434.58 172.20 L434.43 170.75 L434.29 169.30 L434.15 167.84 L434.01 166.39 L433.88 164.94 L433.74 163.49 L433.59 162.04 L433.42 160.59 L433.25 159.14 L433.11 157.69 L433.01 156.24 L432.97 154.78 L432.97 153.33 L432.97 151.88 L432.97 150.43 L432.97 148.98 L433.02 147.53 L433.12 146.08 L433.25 144.63 L433.40 143.18 L433.56 141.73 L433.71 140.28 L433.85 138.82 L433.96 137.37 L434.08 135.92 L434.21 134.47 L434.34 133.02 L434.46 131.57 L434.57 130.12 L434.65 128.67 L434.71 127.22 L434.72 125.77 L434.72 124.31 L434.71 122.86 L434.70 121.41 L434.68 119.96 L434.67 118.51 L434.64 117.06 L434.62 115.61 L434.54 114.16 L434.38 112.71 L434.15 111.26 L433.87 109.80 L433.56 108.35 L433.25 106.90 L432.94 105.45 L432.67 104.00 L432.41 102.55 L432.15 101.10 L431.88 99.65 L431.62 98.20 L431.35 96.74 L431.09 95.29 L430.85 93.84 L430.61 92.39 L430.40 90.94 L430.19 89.49 L429.99 88.04 L429.80 86.59 L429.61 85.14 L429.42 83.69 L429.24 82.23 L429.06 80.78 L428.87 79.33 L428.69 77.88 L428.51 76.43 L428.33 74.98 L428.16 73.53 L428.00 72.08 L427.85 70.63 L427.72 69.18 L427.58 67.72 L427.45 66.27 L427.33 64.82 L427.21 63.37 L427.11 61.92 L427.02 60.47 L426.95 59.02 L426.90 57.57 L426.86 56.12 L426.82 54.67 L426.78 53.22 L426.74 51.76 L426.71 50.31 L426.69 48.86 L426.66 47.41 L426.64 45.96 L426.63 44.51 L426.62 43.06 L426.62 41.61 L426.67 40.16 L426.77 38.70 L426.91 37.25 L427.10 35.80 L427.31 34.35 L427.54 32.90 L427.77 31.45 L456.77 31.45 L457.00 32.90 L457.23 34.35 L457.44 35.80 L457.62 37.25 L457.77 38.70 L457.87 40.16 L457.92 41.61 L457.92 43.06 L457.91 44.51 L457.90 45.96 L457.88 47.41 L457.85 48.86 L457.83 50.31 L457.79 51.76 L457.76 53.22 L457.72 54.67 L457.68 56.12 L457.64 57.57 L457.59 59.02 L457.52 60.47 L457.43 61.92 L457.33 63.37 L457.21 64.82 L457.08 66.27 L456.95 67.72 L456.82 69.18 L456.69 70.63 L456.54 72.08 L456.38 73.53 L456.21 74.98 L456.03 76.43 L455.85 77.88 L455.66 79.33 L455.48 80.78 L455.30 82.23 L455.11 83.69 L454.93 85.14 L454.74 86.59 L454.55 88.04 L454.35 89.49 L454.14 90.94 L453.92 92.39 L453.69 93.84 L453.45 95.29 L453.19 96.74 L452.92 98.20 L452.65 99.65 L452.39 101.10 L452.12 102.55 L451.87 104.00 L451.60 105.45 L451.29 106.90 L450.98 108.35 L450.67 109.80 L450.39 111.26 L450.16 112.71 L450.00 114.16 L449.92 115.61 L449.89 117.06 L449.87 118.51 L449.86 119.96 L449.84 121.41 L449.83 122.86 L449.82 124.31 L449.82 125.77 L449.83 127.22 L449.88 128.67 L449.97 130.12 L450.07 131.57 L450.20 133.02 L450.33 134.47 L450.45 135.92 L450.57 137.37 L450.69 138.82 L450.83 140.28 L450.98 141.73 L451.14 143.18 L451.29 144.63 L451.42 146.08 L451.51 147.53 L451.56 148.98 L451.57 150.43 L451.57 151.88 L451.57 153.33 L451.57 154.78 L451.53 156.24 L451.43 157.69 L451.29 159.14 L451.12 160.59 L450.95 162.04 L450.80 163.49 L450.66 164.94 L450.52 166.39 L450.39 167.84 L450.25 169.30 L450.10 170.75 L449.96 172.20 L449.81 173.65 L449.67 175.10 L449.52 176.55 Z" fill="#2E8B57" stroke="#262626" stroke-width="0.9" stroke-linejoin="round"/>
<path d="M442.27 98.49 V80.49 M440.47 98.49 H444.07 M440.47 80.49 H444.07" stroke="#000" stroke-width="0.75" fill="none"/>
<circle cx="442.27" cy="89.78" r="1.6" fill="#000"/>
<path d="M483.14 176.55 L483.04 175.10 L482.94 173.65 L482.85 172.20 L482.76 170.75 L482.68 169.30 L482.59 167.84 L482.52 166.39 L482.44 164.94 L482.37 163.49 L482.30 162.04 L482.23 160.59 L482.15 159.14 L482.08 157.69 L482.02 156.24 L481.98 154.78 L481.95 153.33 L481.94 151.88 L481.94 150.43 L481.94 148.98 L481.94 147.53 L481.94 146.08 L481.94 144.63 L481.94 143.18 L481.94 141.73 L481.94 140.28 L481.94 138.82 L481.94 137.37 L481.94 135.92 L481.93 134.47 L481.92 133.02 L481.91 131.57 L481.89 130.12 L481.88 128.67 L481.86 127.22 L481.83 125.77 L481.78 124.31 L481.67 122.86 L481.54 121.41 L481.37 119.96 L481.19 118.51 L480.99 117.06 L480.79 115.61 L480.55 114.16 L480.26 112.71 L479.93 111.26 L479.57 109.80 L479.19 108.35 L478.81 106.90 L478.44 105.45 L478.09 104.00 L477.74 102.55 L477.38 101.10 L477.01 99.65 L476.65 98.20 L476.30 96.74 L475.98 95.29 L475.70 93.84 L475.48 92.39 L475.30 90.94 L475.14 89.49 L475.01 88.04 L474.89 86.59 L474.79 85.14 L474.70 83.69 L474.61 82.23 L474.53 80.78 L474.46 79.33 L474.40 77.88 L474.36 76.43 L474.32 74.98 L474.29 73.53 L474.27 72.08 L474.25 70.63 L474.23 69.18 L474.20 67.72 L474.17 66.27 L474.13 64.82 L474.05 63.37 L473.94 61.92 L473.81 60.47 L473.64 59.02 L473.46 57.57 L473.17 56.12 L472.80 54.67 L472.38 53.22 L471.94 51.76 L471.53 50.31 L471.17 48.86 L470.89 47.41 L470.64 45.96 L470.39 44.51 L470.16 43.06 L469.97 41.61 L469.82 40.16 L469.75 38.70 L469.74 37.25 L469.77 35.80 L469.83 34.35 L469.93 32.90 L470.09 31.45 L505.99 31.45 L506.14 32.90 L506.25 34.35 L506.31 35.80 L506.33 37.25 L506.33 38.70 L506.26 40.16 L506.11 41.61 L505.92 43.06 L505.68 44.51 L505.44 45.96 L505.19 47.41 L504.91 48.86 L504.55 50.31 L504.13 51.76 L503.70 53.22 L503.28 54.67 L502.91 56.12 L502.62 57.57 L502.43 59.02 L502.27 60.47 L502.13 61.92 L502.02 63.37 L501.95 64.82 L501.91 66.27 L501.87 67.72 L501.85 69.18 L501.83 70.63 L501.81 72.08 L501.79 73.53 L501.76 74.98 L501.72 76.43 L501.67 77.88 L501.61 79.33 L501.54 80.78 L501.46 82.23 L501.38 83.69 L501.29 85.14 L501.19 86.59 L501.07 88.04 L500.93 89.49 L500.78 90.94 L500.60 92.39 L500.37 93.84 L500.09 95.29 L499.77 96.74 L499.43 98.20 L499.06 99.65 L498.69 101.10 L498.33 102.55 L497.99 104.00 L497.64 105.45 L497.27 106.90 L496.89 108.35 L496.51 109.80 L496.15 111.26 L495.81 112.71 L495.52 114.16 L495.29 115.61 L495.09 117.06 L494.89 118.51 L494.70 119.96 L494.54 121.41 L494.40 122.86 L494.30 124.31 L494.24 125.77 L494.22 127.22 L494.20 128.67 L494.18 130.12 L494.17 131.57 L494.16 133.02 L494.15 134.47 L494.14 135.92 L494.14 137.37 L494.14 138.82 L494.14 140.28 L494.14 141.73 L494.14 143.18 L494.14 144.63 L494.14 146.08 L494.14 147.53 L494.14 148.98 L494.14 150.43 L494.14 151.88 L494.13 153.33 L494.10 154.78 L494.05 156.24 L493.99 157.69 L493.92 159.14 L493.85 160.59 L493.77 162.04 L493.70 163.49 L493.63 164.94 L493.56 166.39 L493.48 167.84 L493.40 169.30 L493.31 170.75 L493.23 172.20 L493.13 173.65 L493.04 175.10 L492.94 176.55 Z" fill="#BA55D3" stroke="#262626" stroke-width="0.9" stroke-linejoin="round"/>
<path d="M488.04 88.91 V72.37 M486.24 88.91 H489.84 M486.24 72.37 H489.84" stroke="#000" stroke-width="0.75" fill="none"/>
<circle cx="488.04" cy="80.49" r="1.6" fill="#000"/>
<rect x="277.5" y="24.4" width="238.0" height="159.1" fill="none" stroke="#B3B3B3" stroke-width="0.45"/>
<line x1="304.96" x2="304.96" y1="183.5" y2="186.2" stroke="#B3B3B3" stroke-width="0.4"/>
<line x1="350.73" x2="350.73" y1="183.5" y2="186.2" stroke="#B3B3B3" stroke-width="0.4"/>
<line x1="396.50" x2="396.50" y1="183.5" y2="186.2" stroke="#B3B3B3" stroke-width="0.4"/>
<line x1="442.27" x2="442.27" y1="183.5" y2="186.2" stroke="#B3B3B3" stroke-width="0.4"/>
<line x1="488.04" x2="488.04" y1="183.5" y2="186.2" stroke="#B3B3B3" stroke-width="0.4"/>
<line x1="32.3" x2="35.0" y1="176.55" y2="176.55" stroke="#B3B3B3" stroke-width="0.4"/>
<text transform="translate(30.4 181.95) scale(1.05 1)" font-size="14.9" fill="#4D4D4D" stroke="#4D4D4D" stroke-width="0.25" text-anchor="end">0</text>
<line x1="32.3" x2="35.0" y1="147.53" y2="147.53" stroke="#B3B3B3" stroke-width="0.4"/>
<text transform="translate(30.4 152.93) scale(1.05 1)" font-size="14.9" fill="#4D4D4D" stroke="#4D4D4D" stroke-width="0.25" text-anchor="end">1</text>
<line x1="32.3" x2="35.0" y1="118.51" y2="118.51" stroke="#B3B3B3" stroke-width="0.4"/>
<text transform="translate(30.4 123.91) scale(1.05 1)" font-size="14.9" fill="#4D4D4D" stroke="#4D4D4D" stroke-width="0.25" text-anchor="end">2</text>
<line x1="32.3" x2="35.0" y1="89.49" y2="89.49" stroke="#B3B3B3" stroke-width="0.4"/>
<text transform="translate(30.4 94.89) scale(1.05 1)" font-size="14.9" fill="#4D4D4D" stroke="#4D4D4D" stroke-width="0.25" text-anchor="end">3</text>
<line x1="32.3" x2="35.0" y1="60.47" y2="60.47" stroke="#B3B3B3" stroke-width="0.4"/>
<text transform="translate(30.4 65.87) scale(1.05 1)" font-size="14.9" fill="#4D4D4D" stroke="#4D4D4D" stroke-width="0.25" text-anchor="end">4</text>
<line x1="32.3" x2="35.0" y1="31.45" y2="31.45" stroke="#B3B3B3" stroke-width="0.4"/>
<text transform="translate(30.4 36.85) scale(1.05 1)" font-size="14.9" fill="#4D4D4D" stroke="#4D4D4D" stroke-width="0.25" text-anchor="end">5</text>
<text x="153.80" y="18.4" font-size="13.7" fill="#fff" stroke="#fff" stroke-width="0.25" text-anchor="middle">adults</text>
<text x="396.50" y="18.4" font-size="13.7" fill="#fff" stroke="#fff" stroke-width="0.25" text-anchor="middle">5-12 year-olds</text>
<text transform="translate(73.72 227.9) rotate(-90)" font-size="16" fill="#4D4D4D" stroke="#4D4D4D" stroke-width="0.25" text-anchor="middle">Stealing</text>
<text transform="translate(119.41 227.9) rotate(-90)" font-size="16" fill="#4D4D4D" stroke="#4D4D4D" stroke-width="0.25" text-anchor="middle">Inheritance</text>
<text transform="translate(165.10 227.9) rotate(-90)" font-size="16" fill="#4D4D4D" stroke="#4D4D4D" stroke-width="0.25" text-anchor="middle">Baseline</text>
<text transform="translate(210.79 227.9) rotate(-90)" font-size="16" fill="#4D4D4D" stroke="#4D4D4D" stroke-width="0.25" text-anchor="middle">Luck</text>
<text transform="translate(256.48 227.9) rotate(-90)" font-size="16" fill="#4D4D4D" stroke="#4D4D4D" stroke-width="0.25" text-anchor="middle">Merit</text>
<text transform="translate(316.26 227.9) rotate(-90)" font-size="16" fill="#4D4D4D" stroke="#4D4D4D" stroke-width="0.25" text-anchor="middle">Stealing</text>
<text transform="translate(362.03 227.9) rotate(-90)" font-size="16" fill="#4D4D4D" stroke="#4D4D4D" stroke-width="0.25" text-anchor="middle">Inheritance</text>
<text transform="translate(407.80 227.9) rotate(-90)" font-size="16" fill="#4D4D4D" stroke="#4D4D4D" stroke-width="0.25" text-anchor="middle">Baseline</text>
<text transform="translate(453.57 227.9) rotate(-90)" font-size="16" fill="#4D4D4D" stroke="#4D4D4D" stroke-width="0.25" text-anchor="middle">Luck</text>
<text transform="translate(499.34 227.9) rotate(-90)" font-size="16" fill="#4D4D4D" stroke="#4D4D4D" stroke-width="0.25" text-anchor="middle">Merit</text>
<text x="274.8" y="281" font-size="16.05" fill="#000" stroke="#000" stroke-width="0.3" text-anchor="middle">Source of Wealth</text>
<text transform="translate(16 104.8) rotate(-90) scale(1.028 1)" font-size="15.75" fill="#000" stroke="#000" stroke-width="0.3" text-anchor="middle">Next-Gen.Deservingness</text>
</svg>
</body></html>
